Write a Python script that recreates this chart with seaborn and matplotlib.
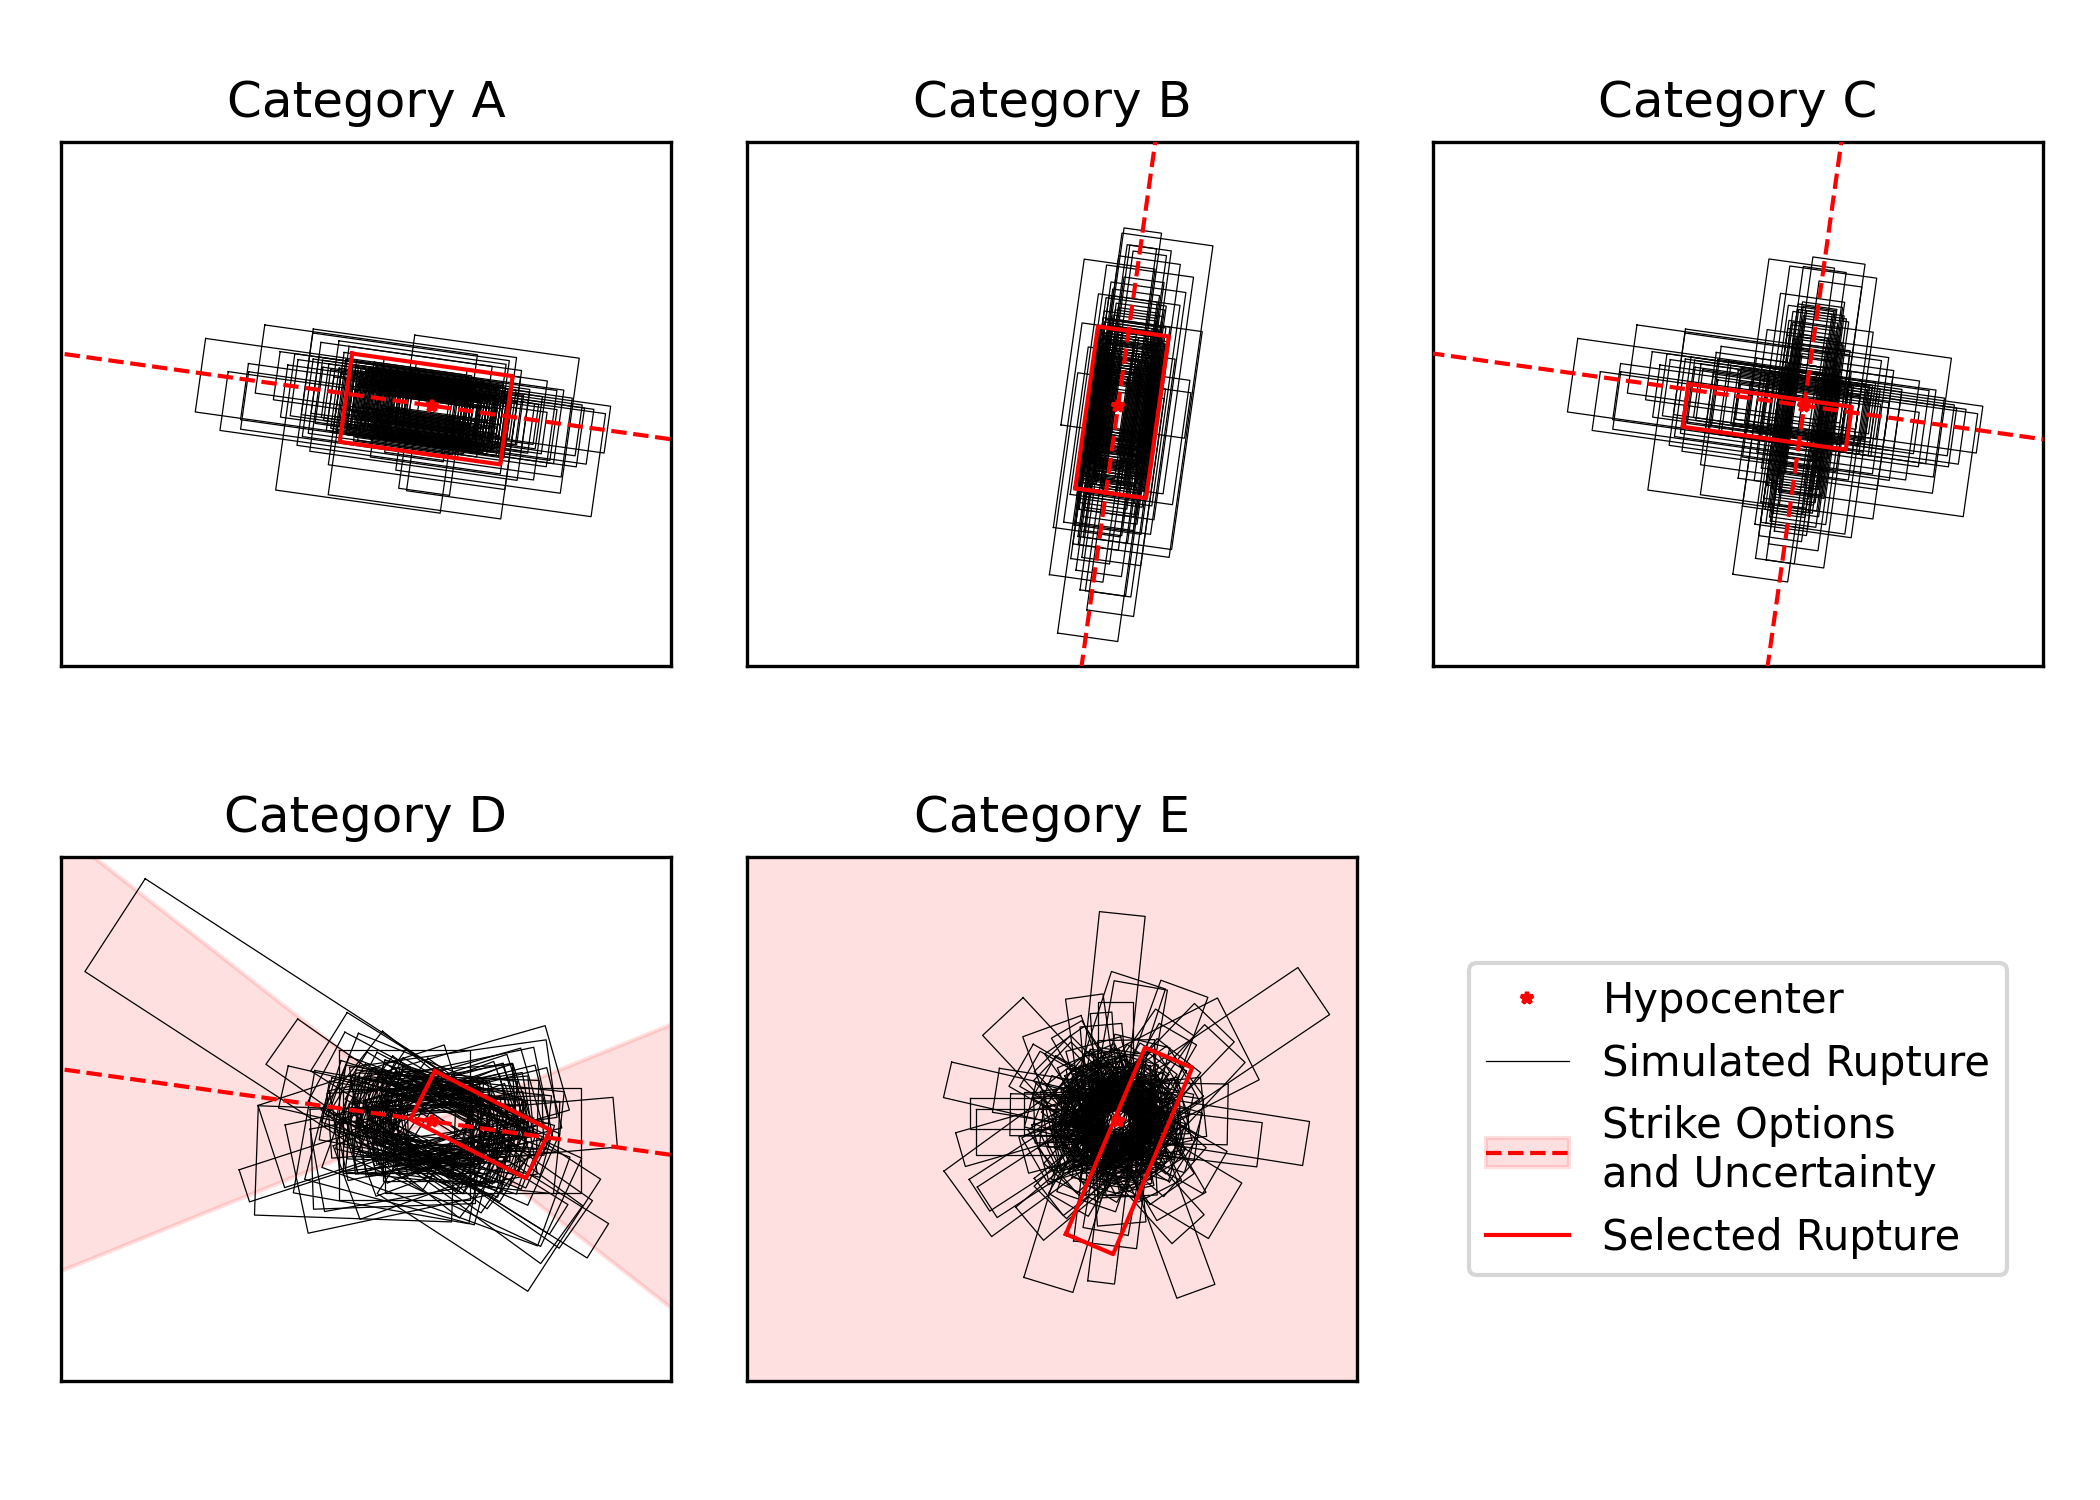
import numpy as np
import pandas as pd
import matplotlib
matplotlib.use("Agg")
import matplotlib.pyplot as plt
from matplotlib.lines import Line2D
from matplotlib.patches import Patch, Polygon
import seaborn as sns

TITLES = ["Category A", "Category B", "Category C", "Category D", "Category E"]
LEGEND_LABELS = ["Hypocenter", "Simulated Rupture", "Strike Options\nand Uncertainty", "Selected Rupture"]
STRIKE_MAIN = 98
STRIKE_CROSS = 8
STRIKE_UNCERTAINTY = 30

# (along_min, along_max, across_min, across_max)
A_OUTER = [
    (-173, 22, -26, 29), (-153, 14, -4, 40), (-139, 30, -12, 30), (-138, 12, -6, 37), (-131, 28, -42, 9),
    (-117, 40, -24, 12), (-106, 17, -24, 78), (-95, 57, -44, 43), (-95, 52, -41, 20), (-20, 103, -50, 51),
    (-67, 62, -35, 76), (-10, 128, -12, 65), (-50, 131, -18, 17), (-40, 119, -14, 27), (-30, 102, -20, 39),
    (-16, 22, -30, 64), (-70, 62, -30, 54), (-85, 70, -22, 46), (-40, 82, -30, 44), (-92, 24, -22, 36),
    (-88, 90, -24, 33), (-78, 110, -16, 22), (-103, 40, -20, 22), (-110, 30, -15, 24), (-70, 112, -14, 30),
]
A_CORE = [
    (-60, 95, -25, 30), (-88, 40, -35, 18), (-75, 50, -38, 25), (-58, 48, -22, 28), (-62, 40, -20, 26),
    (-55, 52, -18, 24), (-50, 45, -21, 30), (-64, 36, -16, 22), (-48, 54, -14, 27), (-52, 33, -19, 21),
    (-45, 50, -23, 25), (-60, 28, -17, 29), (-42, 47, -12, 19), (-56, 42, -20, 17), (-38, 55, -15, 26),
    (-66, 30, -10, 24), (-47, 38, -22, 20), (-53, 58, -13, 31), (-35, 44, -18, 23), (-58, 25, -9, 28),
    (-44, 60, -20, 16), (-30, 52, -16, 30), (-70, 44, -14, 18), (-40, 33, -24, 27), (-50, 62, -11, 22),
    (-34, 48, -19, 25), (-63, 52, -21, 15), (-28, 40, -13, 28), (-46, 66, -17, 20), (-57, 35, -8, 26),
    (-32, 70, -20, 24), (-41, 28, -15, 32), (-72, 55, -18, 27), (-25, 46, -22, 18), (-36, 75, -12, 25),
    (-54, 20, -16, 34), (-80, 34, -20, 20), (-22, 58, -10, 23), (-43, 80, -18, 21), (-68, 24, -25, 28),
    (-26, 36, -14, 15), (-37, 42, -21, 29), (-49, 56, -9, 17), (-31, 30, -18, 26), (-61, 46, -13, 23),
    (-39, 85, -7, 24), (-20, 65, -16, 20), (-75, 42, -11, 29), (-29, 50, -24, 14), (-51, 38, -19, 33),
    (-24, 78, -12, 18), (-84, 30, -17, 25), (-33, 92, -10, 28), (-47, 26, -26, 22), (-19, 54, -20, 30),
]
A_FILL = [
    (-40, 30, -6, 11), (-52, 22, -9, 8), (-28, 44, -4, 14), (-58, 36, -7, 13), (-34, 26, -11, 6),
    (-46, 40, -5, 16), (-22, 50, -8, 10), (-60, 18, -12, 12), (-30, 34, -3, 9), (-50, 48, -10, 5),
    (-26, 20, -6, 15), (-44, 28, -13, 10), (-36, 52, -5, 7), (-54, 30, -8, 14), (-20, 38, -10, 12),
    (-62, 44, -4, 11), (-32, 16, -7, 8), (-48, 24, -12, 15), (-24, 42, -9, 6), (-42, 34, -3, 13),
    (-56, 50, -11, 9), (-18, 28, -5, 10), (-38, 46, -14, 7), (-64, 26, -6, 16), (-16, 36, -8, 12),
]
SELECTED_A = (-64, 56, -30, 36)

B_OUTER = [
    (-60, 131, -14, 14), (-106, 127, -15, 53), (-20, 104, -40, 13), (-60, 102, -23, 42), (-100, 63, -12, 54),
    (-67, 26, -20, 50), (-17, 17, -10, 52), (-96, 57, -35, 15), (-91, 40, -28, 37), (-131, 20, -33, 7),
    (-173, 15, -21, 24), (-153, 10, -2, 33), (-139, 28, -9, 25), (-139, 12, -5, 29), (-117, 40, -19, 10),
    (-115, 17, -11, 33), (-106, 22, -19, 15), (-92, 63, -20, 30), (-40, 119, -10, 23), (-50, 110, -15, 31),
    (-30, 115, -5, 20), (-20, 119, -8, 12), (-80, 90, -18, 38), (-70, 80, -26, 35), (-125, 30, -14, 20),
]
B_CORE = [
    (-65, 78, -20, 25), (-60, 50, -22, 28), (-58, 62, -18, 24), (-62, 45, -16, 26), (-55, 55, -21, 22),
    (-50, 48, -14, 27), (-64, 40, -19, 20), (-52, 70, -12, 23), (-48, 52, -17, 29), (-66, 36, -20, 18),
    (-45, 58, -15, 25), (-57, 44, -22, 21), (-42, 66, -13, 19), (-60, 32, -10, 24), (-53, 50, -18, 16),
    (-70, 47, -16, 22), (-40, 56, -21, 26), (-47, 38, -11, 28), (-75, 60, -19, 17), (-38, 46, -14, 21),
    (-55, 28, -17, 30), (-35, 75, -12, 24), (-80, 42, -20, 23), (-44, 34, -8, 18), (-30, 62, -18, 27),
    (-68, 25, -13, 20), (-33, 52, -22, 15), (-85, 38, -15, 26), (-28, 48, -10, 22), (-50, 85, -16, 19),
    (-90, 30, -19, 24), (-25, 58, -13, 17), (-41, 95, -9, 21), (-72, 22, -21, 28), (-22, 44, -17, 25),
    (-95, 35, -12, 16), (-36, 68, -20, 20), (-60, 20, -8, 27), (-20, 54, -15, 23), (-100, 26, -16, 21),
    (-46, 30, -11, 14), (-31, 80, -18, 18), (-78, 18, -14, 25), (-26, 40, -22, 24), (-56, 72, -10, 20),
    (-24, 34, -13, 26), (-65, 28, -18, 13), (-34, 60, -7, 22), (-43, 24, -20, 19), (-18, 50, -16, 28),
]
B_FILL = [
    (-44, 32, -7, 9), (-58, 24, -5, 12), (-30, 46, -9, 6), (-62, 38, -4, 10), (-36, 22, -10, 4),
    (-50, 42, -6, 13), (-24, 52, -8, 8), (-64, 18, -11, 7), (-32, 36, -3, 11), (-54, 50, -9, 5),
    (-28, 20, -5, 14), (-46, 30, -12, 9), (-38, 54, -4, 6), (-56, 32, -7, 12), (-22, 40, -10, 10),
    (-66, 46, -3, 8), (-34, 16, -6, 7), (-52, 26, -11, 13), (-26, 44, -8, 5), (-42, 36, -2, 11),
]
SELECTED_B = (-65, 56, -23, 30)

C_VERTICAL = [
    (-45, 110, -9, 30), (-60, 104, -41, 8), (-131, 25, -35, 6), (-50, 101, -25, 40), (-20, 102, -15, 17),
    (-20, 93, -2, 30), (-60, 80, -29, 19), (-90, 61, -20, 43), (-80, 52, -35, 10), (-117, 30, -20, 31),
    (-117, 15, -12, 9), (-105, 25, -12, 25), (-100, 20, -20, 12), (-92, 20, -24, 48), (-85, 45, -14, 28),
    (-80, 68, -18, 22), (-70, 76, -12, 18), (-95, 40, -9, 15), (-75, 72, -22, 12), (-60, 70, -8, 20),
    (-78, 74, -15, 14), (-66, 66, -10, 24), (-58, 60, -17, 19), (-88, 50, -13, 21), (-52, 73, -11, 13),
    (-72, 55, -20, 17), (-48, 64, -9, 16), (-64, 48, -15, 23), (-82, 42, -12, 12), (-44, 58, -18, 15),
    (-76, 36, -8, 20), (-40, 70, -14, 11), (-56, 52, -11, 18), (-90, 30, -16, 15), (-36, 45, -10, 22),
    (-68, 30, -13, 13), (-50, 38, -7, 17), (-62, 26, -19, 14), (-32, 50, -12, 19), (-46, 28, -9, 12),
]
SELECTED_C = (-87, 35, -4, 28)

# (strike, along_min, along_max, across_min, across_max)
D_OUTER = [
    (123, -276, 22, -35, 47), (123, -5, 128, -32, 67), (125, -125, 20, -5, 36), (122, -96, 30, -35, 16),
    (103, -113, 25, -16, 16), (92, -129, 17, -7, 74), (72, -119, 26, -51, 13), (72, -147, 28, -10, 15),
    (78, -107, 40, -20, 62), (85, -30, 135, -6, 31), (122, -20, 151, -5, 25), (126, -10, 127, -15, 38),
    (122, -20, 118, -1, 25), (125, -15, 131, -20, 23), (90, -35, 110, -25, 53), (90, -69, 28, -53, 58),
    (118, -88, 30, -28, 30), (112, -75, 60, -40, 25), (80, -90, 70, -10, 52), (100, -92, 40, -22, 70),
    (96, -60, 95, -32, 44), (74, -50, 100, -45, 20), (78, -70, 85, -38, 30), (82, -55, 92, -48, 10),
    (110, -65, 105, -10, 60), (115, -40, 112, -22, 50), (70, -75, 60, -8, 50), (88, -90, 30, -12, 62),
    (105, -80, 50, -12, 66), (128, -70, 60, -30, 44),
]
D_CORE = [
    (98, -55, 65, -25, 30), (110, -48, 70, -28, 26), (85, -60, 55, -18, 34), (120, -42, 60, -30, 22),
    (75, -50, 62, -28, 28), (103, -65, 48, -20, 36), (92, -38, 78, -33, 18), (116, -58, 44, -14, 38),
    (80, -46, 72, -24, 24), (126, -52, 50, -22, 30), (70, -36, 58, -26, 32), (100, -70, 40, -30, 20),
    (88, -44, 82, -16, 28), (112, -34, 66, -26, 34), (78, -62, 46, -20, 26), (122, -40, 74, -18, 24),
    (94, -56, 36, -32, 30), (106, -30, 88, -22, 18), (84, -72, 52, -12, 30), (72, -42, 68, -30, 16),
    (118, -60, 38, -26, 28), (96, -28, 60, -36, 24), (108, -50, 76, -16, 32), (76, -32, 84, -22, 22),
    (124, -46, 56, -34, 20), (90, -66, 42, -24, 38), (102, -38, 70, -14, 26), (82, -54, 34, -28, 34),
    (114, -26, 90, -30, 28), (68, -48, 64, -18, 30), (128, -36, 72, -20, 26), (86, -76, 30, -26, 22),
    (98, -24, 58, -20, 42), (120, -64, 62, -12, 18), (74, -40, 78, -34, 24), (104, -52, 32, -28, 16),
    (92, -34, 94, -18, 20), (110, -74, 54, -24, 30), (80, -22, 66, -32, 28), (116, -44, 84, -28, 14),
    (70, -58, 50, -14, 38), (126, -30, 46, -36, 32), (88, -48, 68, -10, 24), (100, -80, 36, -16, 28),
    (78, -26, 56, -24, 34), (112, -56, 80, -20, 22), (94, -42, 28, -30, 26), (122, -68, 42, -18, 34),
    (84, -30, 74, -26, 18), (106, -46, 60, -34, 36), (72, -64, 70, -22, 20), (118, -24, 52, -16, 30),
    (96, -52, 86, -28, 12), (90, -36, 48, -12, 44), (108, -78, 44, -22, 26), (76, -44, 92, -18, 28),
    (124, -28, 68, -26, 36), (102, -60, 26, -20, 32), (86, -32, 62, -38, 14), (114, -50, 40, -14, 24),
    (98, -40, 54, -24, 16), (82, -20, 44, -18, 36), (110, -34, 34, -30, 18), (92, -62, 30, -8, 30),
    (120, -22, 38, -20, 28), (74, -30, 40, -14, 22), (104, -26, 50, -16, 20), (88, -18, 36, -24, 24),
]
SELECTED_D = (117, -15, 81, -34, 6)

E_OUTER = [
    (6, -35, 153, -30, 4), (7, -120, 30, -8, 12), (56, -30, 174, -20, 22), (54, -126, 30, -46, 14),
    (99, -30, 140, -22, 11), (97, -25, 106, -12, 21), (91, -20, 81, -29, 16), (121, -20, 102, -8, 40),
    (160, -20, 138, -26, 4), (17, -131, 25, -33, 5), (138, -10, 94, -1, 31), (50, -99, 20, 0, 32),
    (57, -116, 22, -24, 4), (57, -114, 25, -16, 11), (74, -118, 25, -25, 1), (90, -105, 28, -9, 25),
    (90, -110, 20, -17, 6), (103, -130, 25, -15, 12), (99, -93, 22, -25, 8), (91, -80, 25, -19, 12),
    (137, -115, 20, -11, 30), (160, -83, 20, -1, 45), (352, -20, 95, -26, 2), (18, -20, 104, -39, 3),
    (10, -25, 102, -21, 19), (20, -20, 109, -6, 31), (63, -20, 107, -48, 20), (44, -25, 102, -20, 21),
    (43, -20, 96, -2, 39), (0, -25, 88, -15, 11), (356, -30, 81, -15, 1), (355, -30, 72, -22, 9),
    (7, -92, 25, -22, 25), (120, -25, 81, -21, 15), (120, -83, 25, -18, 18), (52, -75, 30, -5, 30),
    (58, -60, 22, -30, 6), (30, -25, 78, -10, 22), (35, -20, 84, -25, 10), (145, -72, 28, -20, 16),
    (150, -25, 78, -30, 12), (175, -25, 76, -14, 22), (190, -20, 82, -22, 12), (210, -25, 72, -16, 18),
    (225, -20, 78, -24, 10), (240, -22, 68, -15, 25), (255, -20, 74, -20, 8), (270, -25, 70, -10, 22),
    (285, -24, 66, -22, 12), (300, -20, 76, -14, 16), (315, -25, 70, -18, 20), (330, -22, 78, -12, 14),
]
E_CORE = [
    (3, -30, 40, -14, 12), (15, -25, 48, -10, 18), (28, -34, 32, -16, 10), (37, -22, 54, -12, 14),
    (48, -28, 44, -18, 8), (60, -36, 30, -9, 16), (68, -20, 50, -14, 15), (82, -30, 42, -11, 12),
    (95, -26, 36, -17, 10), (108, -38, 46, -8, 14), (116, -24, 34, -13, 19), (128, -32, 52, -15, 9),
    (140, -18, 40, -10, 16), (152, -28, 30, -19, 11), (163, -34, 48, -12, 13), (172, -22, 38, -9, 18),
    (185, -30, 44, -16, 12), (197, -26, 32, -11, 15), (205, -36, 50, -14, 8), (218, -20, 36, -18, 14),
    (230, -32, 42, -8, 17), (243, -24, 54, -13, 10), (252, -30, 30, -15, 16), (264, -38, 40, -10, 11),
    (277, -22, 46, -17, 13), (288, -28, 34, -12, 9), (296, -34, 38, -9, 20), (308, -26, 50, -14, 12),
    (321, -18, 44, -19, 10), (333, -30, 32, -11, 15), (344, -36, 42, -13, 14), (355, -24, 36, -16, 8),
    (10, -40, 28, -12, 13), (22, -28, 36, -17, 15), (33, -20, 42, -9, 12), (44, -34, 26, -14, 18),
    (55, -26, 48, -11, 10), (65, -42, 34, -16, 14), (77, -18, 38, -13, 17), (88, -30, 52, -8, 11),
    (101, -24, 30, -20, 13), (112, -36, 40, -10, 15), (124, -22, 46, -14, 9), (134, -28, 34, -18, 12),
    (147, -44, 38, -9, 16), (158, -16, 30, -12, 20), (168, -32, 50, -15, 10), (179, -26, 28, -11, 14),
    (192, -38, 36, -17, 13), (202, -20, 44, -8, 15), (213, -30, 26, -13, 11), (225, -24, 40, -16, 17),
    (236, -34, 32, -10, 12), (247, -18, 48, -19, 14), (258, -40, 30, -12, 9), (270, -28, 42, -15, 16),
    (281, -22, 34, -9, 13), (292, -32, 46, -14, 10), (303, -26, 28, -17, 18), (315, -36, 38, -11, 12),
    (326, -20, 42, -13, 15), (338, -30, 30, -8, 14), (349, -24, 52, -16, 11), (358, -42, 32, -10, 17),
]
E_MID = [
    (2, -55, 40, -22, 18), (14, -40, 62, -18, 24), (26, -60, 35, -26, 14), (38, -35, 66, -15, 26),
    (49, -58, 42, -24, 20), (61, -44, 60, -20, 16), (73, -62, 38, -16, 28), (84, -38, 64, -26, 18),
    (96, -56, 44, -14, 24), (107, -42, 58, -24, 22), (119, -64, 36, -20, 16), (131, -36, 62, -28, 20),
    (142, -54, 46, -16, 26), (153, -46, 60, -22, 14), (165, -60, 40, -18, 24), (177, -40, 56, -26, 18),
    (188, -52, 48, -14, 22), (199, -44, 64, -20, 26), (211, -58, 36, -24, 16), (222, -38, 60, -18, 20),
    (234, -62, 42, -22, 24), (245, -34, 56, -16, 18), (257, -50, 50, -26, 22), (268, -46, 62, -14, 20),
    (279, -60, 38, -20, 26), (291, -40, 58, -24, 14), (302, -56, 44, -18, 22), (314, -36, 66, -22, 18),
    (325, -64, 40, -16, 24), (337, -42, 54, -26, 20), (348, -52, 46, -20, 16), (359, -38, 60, -14, 28),
    (8, -46, 50, -28, 12), (31, -52, 38, -12, 30), (57, -38, 52, -30, 10), (79, -48, 44, -10, 30),
    (103, -34, 50, -32, 14), (126, -50, 36, -12, 28), (149, -40, 48, -28, 12), (171, -44, 34, -14, 32),
    (194, -36, 52, -30, 10), (216, -50, 38, -10, 28), (239, -42, 46, -28, 16), (262, -34, 54, -12, 30),
    (286, -48, 40, -32, 12), (309, -38, 50, -14, 26), (331, -46, 36, -28, 14), (353, -34, 48, -10, 32),
]
SELECTED_E = (23, -92, 58, -3, 35)


def outline(strike, along_min, along_max, across_min, across_max):
    t = np.radians(strike)
    a = np.array([along_min, along_max, along_max, along_min, along_min], float)
    c = np.array([across_min, across_min, across_max, across_max, across_min], float)
    return a * np.sin(t) + c * np.cos(t), a * np.cos(t) - c * np.sin(t)


def frame_of(rects):
    rows = []
    for i, r in enumerate(rects):
        x, y = outline(*r)
        rows.append(pd.DataFrame({"x": x, "y": y, "rupture": i, "step": range(5)}))
    return pd.concat(rows, ignore_index=True)


def draw_ruptures(ax, rects):
    sns.lineplot(data=frame_of(rects), x="x", y="y", units="rupture", estimator=None, sort=False,
                 color="black", linewidth=0.3, ax=ax, legend=False, zorder=2)


def draw_strike(ax, strike):
    t = np.radians(strike)
    ax.plot([-1000 * np.sin(t), 1000 * np.sin(t)], [-1000 * np.cos(t), 1000 * np.cos(t)],
            color="red", ls="--", lw=1, zorder=3)


def draw_wedges(ax, strike, half):
    for centre in (strike, strike + 180):
        ang = np.radians(np.linspace(centre - half, centre + half, 40))
        pts = np.column_stack([2000 * np.sin(ang), 2000 * np.cos(ang)])
        ax.add_patch(Polygon(np.vstack([[0, 0], pts]), closed=True, color="red", alpha=0.12, zorder=1))


def draw_full_circle(ax):
    ang = np.radians(np.linspace(0, 360, 90))
    pts = np.column_stack([2000 * np.sin(ang), 2000 * np.cos(ang)])
    ax.add_patch(Polygon(pts, closed=True, color="red", alpha=0.12, zorder=1))


def draw_selected(ax, rect):
    x, y = outline(*rect)
    ax.plot(x, y, color="red", lw=1, zorder=4)


def draw_hypocenter(ax):
    ax.plot([0], [0], ls="none", marker="*", color="red", ms=3, zorder=5)


fig, axes = plt.subplots(2, 3, figsize=(7, 5), dpi=300)
fig.subplots_adjust(left=0.0289, right=0.973, top=0.9055, bottom=0.0792, wspace=0.1239, hspace=0.366)
flat = axes.ravel()

draw_ruptures(flat[0], [(STRIKE_MAIN, *r) for r in A_OUTER + A_CORE + A_FILL])
draw_strike(flat[0], STRIKE_MAIN)
draw_selected(flat[0], (STRIKE_MAIN, *SELECTED_A))

draw_ruptures(flat[1], [(STRIKE_CROSS, *r) for r in B_OUTER + B_CORE + B_FILL])
draw_strike(flat[1], STRIKE_CROSS)
draw_selected(flat[1], (STRIKE_CROSS, *SELECTED_B))

draw_ruptures(flat[2], [(STRIKE_MAIN, *r) for r in A_OUTER + A_CORE[::3]] + [(STRIKE_CROSS, *r) for r in C_VERTICAL])
draw_strike(flat[2], STRIKE_MAIN)
draw_strike(flat[2], STRIKE_CROSS)
draw_selected(flat[2], (STRIKE_MAIN, *SELECTED_C))

draw_wedges(flat[3], STRIKE_MAIN, STRIKE_UNCERTAINTY)
draw_ruptures(flat[3], D_OUTER + D_CORE)
draw_strike(flat[3], STRIKE_MAIN)
draw_selected(flat[3], SELECTED_D)

draw_full_circle(flat[4])
draw_ruptures(flat[4], E_OUTER + E_CORE + E_MID)
draw_selected(flat[4], SELECTED_E)

for ax, title in zip(flat[:5], TITLES):
    draw_hypocenter(ax)
    ax.set_xlim(-275, 177)
    ax.set_ylim(-192.5, 195.5)
    ax.set_xticks([])
    ax.set_yticks([])
    ax.set_xlabel("")
    ax.set_ylabel("")
    ax.set_title(title, fontsize=12)

flat[5].axis("off")
handles = [
    Line2D([], [], ls="none", marker="*", color="red", ms=3),
    Line2D([], [], color="black", lw=0.3),
    (Patch(color="red", alpha=0.12), Line2D([], [], color="red", ls="--", lw=1)),
    Line2D([], [], color="red", lw=1),
]
flat[5].legend(handles, LEGEND_LABELS, loc="center", fontsize=10)

fig.savefig("out.png", dpi=300)
